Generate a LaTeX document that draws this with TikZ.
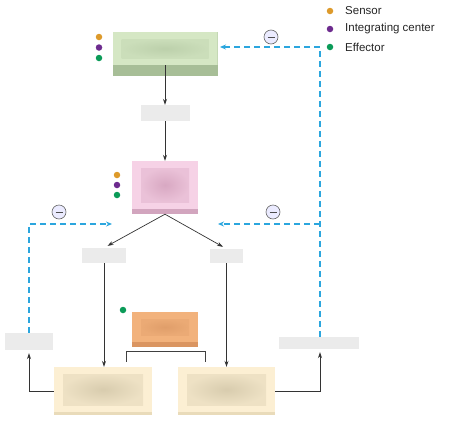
\documentclass[tikz,border=0pt]{standalone}
\usepackage{fontspec}
\setmainfont{Liberation Sans}
\usetikzlibrary{arrows.meta}

\definecolor{greentop}{HTML}{D5E7C4}
\definecolor{greencore}{HTML}{BCD0AB}
\definecolor{greenbase}{HTML}{A7BE97}
\definecolor{pinktop}{HTML}{F6D2E6}
\definecolor{pinkcore}{HTML}{D8A8C2}
\definecolor{pinkbase}{HTML}{D2A5BE}
\definecolor{orangetop}{HTML}{F2B27C}
\definecolor{orangecore}{HTML}{E09E6A}
\definecolor{orangebase}{HTML}{DA9561}
\definecolor{beigetop}{HTML}{FCEFD3}
\definecolor{beigecore}{HTML}{D8CCAE}
\definecolor{beigebase}{HTML}{E9DBBA}
\definecolor{loopblue}{HTML}{2BA6DE}
\definecolor{sensorc}{HTML}{DD9A2B}
\definecolor{centerc}{HTML}{6D2B8E}
\definecolor{effectorc}{HTML}{0B9B58}

\begin{document}
\begin{tikzpicture}[x=1pt,y=-1pt,
            slab/.style n args={4}{inner sep=0pt, fill=#2, path picture={
              \fill[#1] (path picture bounding box.north west) rectangle ([yshift=#4]path picture bounding box.south east);
              \fill[#3!40!#1] ([xshift=9pt,yshift=-7pt]path picture bounding box.north west) rectangle ([xshift=-9pt,yshift=#4+7pt]path picture bounding box.south east);
              \shade[inner color=#3, outer color=#3!40!#1] ([xshift=9pt,yshift=-7pt]path picture bounding box.north west) rectangle ([xshift=-9pt,yshift=#4+7pt]path picture bounding box.south east);}},
            tag/.style={inner sep=0pt, fill=black!8},
            dot/.style={circle, inner sep=0pt, minimum size=6.5pt},
            flow/.style={-{Stealth[length=6pt,width=4pt]}, black!80, line width=0.7pt},
            loop/.style={-{Stealth[length=6pt,width=5pt]}, loopblue, line width=1.3pt, dash pattern=on 6pt off 4pt},
            minus/.style={circle, draw=black!60, fill=blue!8, line width=0.6pt, minimum size=14pt, inner sep=0pt,
              path picture={\draw[black!70, line width=1pt] ([xshift=-3.5pt]path picture bounding box.center) -- ([xshift=3.5pt]path picture bounding box.center);}},
            key/.style={anchor=west, inner sep=0pt, font=\fontsize{11.5}{13}\selectfont, text=black!85}]
  \useasboundingbox (0,0) rectangle (474,426);

  \node[slab={greentop}{greenbase}{greencore}{11pt}, minimum width=105pt, minimum height=44pt] (ctrl) at (165,54) {};
  \node[slab={pinktop}{pinkbase}{pinkcore}{5pt}, minimum width=66pt, minimum height=53pt] (hub) at (165,187.5) {};
  \node[slab={orangetop}{orangebase}{orangecore}{5pt}, minimum width=66pt, minimum height=35pt] (aux) at (165,329.5) {};
  \node[slab={beigetop}{beigebase}{beigecore}{3pt}, minimum width=98pt, minimum height=48pt] (left) at (103,391) {};
  \node[slab={beigetop}{beigebase}{beigecore}{3pt}, minimum width=97pt, minimum height=48pt] (right) at (226.5,391) {};

  \node[tag, minimum width=49pt, minimum height=16pt] (sig) at (165,113) {};
  \node[tag, minimum width=44pt, minimum height=15pt] (sigL) at (104,255.5) {};
  \node[tag, minimum width=33pt, minimum height=14pt] (sigR) at (226.5,256) {};
  \node[tag, minimum width=48pt, minimum height=17pt] (outL) at (29,341.5) {};
  \node[tag, minimum width=80pt, minimum height=12pt] (outR) at (319,343) {};

  \node[dot, fill=sensorc] (sensA) at (99,37) {};
  \node[dot, fill=centerc] (centA) at (99,47.5) {};
  \node[dot, fill=effectorc] (effA) at (99,58) {};
  \node[dot, fill=sensorc] (sensB) at (117,175) {};
  \node[dot, fill=centerc] (centB) at (117,185) {};
  \node[dot, fill=effectorc] (effB) at (117,195) {};
  \node[dot, fill=effectorc] (effC) at (123,310) {};

  \node[dot, fill=sensorc] (keyS) at (330,11) {};
  \node[dot, fill=centerc] (keyI) at (330,29) {};
  \node[dot, fill=effectorc] (keyE) at (330,47) {};
  \node[key] (txtS) at (345,11) {Sensor};
  \node[key] (txtI) at (345,29) {Integrating center};
  \node[key] (txtE) at (345,47) {Effector};

  \coordinate (fbTop) at (220,47);
  \coordinate (fbL) at (112,224);
  \coordinate (fbR) at (218,224);
  \coordinate (turnR) at (320,224);

  \draw[flow] ([yshift=11pt]ctrl.south) -- (sig.north);
  \draw[flow] (sig.south) -- (hub.north);
  \draw[flow, shorten >=4pt] (hub.south) -- (sigL.north);
  \draw[flow, shorten >=4pt] (hub.south) -- (sigR.north);
  \draw[flow] (sigL.south) -- (sigL.south |- left.north);
  \draw[flow] (sigR.south) -- (sigR.south |- right.north);
  \draw[flow] (left.west) -| ([yshift=-3pt]outL.south);
  \draw[flow] (right.east) -| ([xshift=1pt,yshift=-3pt]outR.south);
  \draw[black!75, line width=0.7pt] ([xshift=23pt,yshift=5pt]left.north) |- ([yshift=-4pt]aux.south) -| ([xshift=-21.5pt,yshift=5pt]right.north);

  \draw[loop] (outL.north) |- (fbL);
  \draw[loop] ([xshift=1pt]outR.north) |- (fbTop);
  \draw[loop] (turnR) -- (fbR);

  \node[minus] (negL) at (59,212) {};
  \node[minus] (negR) at (273,212) {};
  \node[minus] (negTop) at (271,37) {};
\end{tikzpicture}
\end{document}
